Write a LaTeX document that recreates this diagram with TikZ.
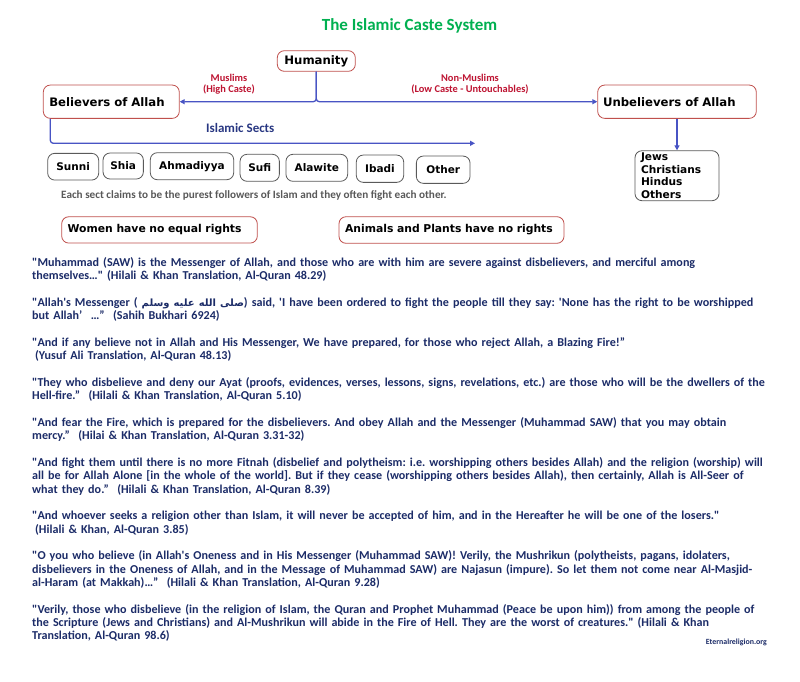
\documentclass[tikz,border=0pt]{standalone}
\usepackage{fontspec}
\usetikzlibrary{arrows.meta}
\TeXXeTstate=1
\newfontfamily\carl{Carlito}
\newfontfamily\dvs{DejaVu Sans}
\newfontfamily\arabicfont[Script=Arabic]{DejaVu Sans}
\definecolor{titlegreen}{RGB}{0,176,80}
\definecolor{boxred}{RGB}{192,80,77}
\definecolor{linkblue}{RGB}{72,84,196}
\definecolor{labelred}{RGB}{190,20,50}
\definecolor{sectblue}{RGB}{40,55,130}
\definecolor{quoteblue}{RGB}{28,44,104}
\definecolor{graytext}{RGB}{89,89,89}
\definecolor{sectgray}{RGB}{90,90,90}
\newcommand{\gp}{\hspace{0.7em}}
\frenchspacing
\tikzset{
  titlestyle/.style={inner sep=0pt, text=titlegreen, font=\carl\bfseries\fontsize{17}{20}\selectfont},
  mainbox/.style={draw=boxred, line width=0.8pt, rounded corners=7pt, inner ysep=0pt,
    font=\dvs\bfseries\fontsize{11.7}{14}\selectfont},
  sectbox/.style={draw=sectgray, line width=0.8pt, rounded corners=7pt, inner sep=0pt,
    font=\dvs\bfseries\fontsize{10.5}{12}\selectfont},
  rightsbox/.style={draw=boxred, line width=0.8pt, rounded corners=7pt, inner ysep=0pt,
    align=left, font=\dvs\bfseries\fontsize{10.8}{13}\selectfont},
  listbox/.style={draw=sectgray, line width=0.8pt, rounded corners=7pt, inner ysep=0pt,
    align=left, font=\dvs\bfseries\fontsize{10.6}{12.7}\selectfont},
  conn/.style={draw=linkblue, line width=1.3pt, -{Triangle[length=5pt,width=5pt]}},
  caste/.style={inner sep=0pt, align=center, text=labelred, font=\carl\bfseries\fontsize{10.4}{11}\selectfont},
  sectlabel/.style={inner sep=0pt, text=sectblue, font=\carl\bfseries\fontsize{13}{15}\selectfont},
  claimtext/.style={inner sep=0pt, text=graytext, font=\carl\bfseries\fontsize{11.2}{13}\selectfont},
  qtext/.style={anchor=base west, inner sep=0pt, text width=820pt, align=left, text=quoteblue,
    font=\carl\bfseries\fontsize{12.1}{13.35}\selectfont},
  sitetext/.style={inner sep=0pt, text=quoteblue, font=\carl\bfseries\fontsize{7.9}{9}\selectfont}
}
\begin{document}
\begin{tikzpicture}[x=1pt,y=-1pt]
\fill[white] (0,0) rectangle (800,681);
\useasboundingbox (0,0) rectangle (800,681);

\node[titlestyle, anchor=base] (title) at (409.5,30.5) {The Islamic Caste System};

\node[mainbox, minimum width=78pt, minimum height=20.6pt] (hum) at (316.3,61) {Humanity};
\node[mainbox, text width=124pt, inner xsep=6pt, align=left, minimum height=33.3pt] (bel) at (111.3,101.7) {Believers of Allah};
\node[mainbox, text width=148pt, inner xsep=5.3pt, align=left, minimum height=33.3pt] (unb) at (677,101.7) {Unbelievers of Allah};

\draw[conn, rounded corners=3pt] (hum.south) |- (bel.east);
\draw[conn, rounded corners=3pt] (hum.south) |- (unb.west);

\node[caste] (mus) at (229,84.5) {Muslims\\(High Caste)};
\node[caste] (nonmus) at (470,84.5) {Non-Muslims\\(Low Caste - Untouchables)};

\coordinate (sectend) at (475,143.3);
\draw[conn, rounded corners=3pt] ([xshift=7.4pt]bel.south west) |- (sectend);
\node[sectlabel, anchor=base] (sl) at (240.3,132) {Islamic Sects};

\node[sectbox, minimum width=51pt, minimum height=26.7pt] (sunni) at (73.2,166.7) {Sunni};
\node[sectbox, minimum width=40.3pt, minimum height=26pt] (shia) at (123.2,166) {Shia};
\node[sectbox, minimum width=83.4pt, minimum height=27pt] (ahm) at (192,166.2) {Ahmadiyya};
\node[sectbox, minimum width=39.3pt, minimum height=27pt] (sufi) at (259.7,167.8) {Sufi};
\node[sectbox, minimum width=61.7pt, minimum height=27pt] (alaw) at (316.8,167.8) {Alawite};
\node[sectbox, minimum width=47.4pt, minimum height=27.3pt] (ibadi) at (380,168.7) {Ibadi};
\node[sectbox, minimum width=53.7pt, minimum height=27.3pt] (other) at (443.2,169.7) {Other};

\node[claimtext, anchor=base west] (claim) at (61,198.5) {Each sect claims to be the purest followers of Islam and they often fight each other.};

\node[listbox, text width=72pt, inner xsep=6pt, minimum height=50pt] (jews) at (677,175.7) {Jews\\Christians\\Hindus\\Others};
\draw[conn] (unb.south) -- (jews.north);

\node[rightsbox, text width=183.6pt, inner xsep=6pt, minimum height=26.3pt] (women) at (159.5,229.9) {Women have no equal rights};
\node[rightsbox, text width=213pt, inner xsep=6pt, minimum height=26.6pt] (animals) at (451.5,230) {Animals and Plants have no rights};

\node[qtext] (q1) at (32,266.3) {"Muhammad (SAW) is the Messenger of Allah, and those who are with him are severe against disbelievers, and merciful among\\
themselves…" (Hilali \& Khan Translation, Al-Quran 48.29)};
\node[qtext] (q2) at (32,306.3) {"Allah's Messenger ( {\arabicfont\fontsize{10}{13.35}\selectfont\beginR صلى الله عليه وسلم\endR}) said, 'I have been ordered to fight the people till they say: 'None has the right to be worshipped\\
but Allah’\gp…”\gp (Sahih Bukhari 6924)};
\node[qtext] (q3) at (32,346.3) {"And if any believe not in Allah and His Messenger, We have prepared, for those who reject Allah, a Blazing Fire!”\\
\hspace*{3pt}(Yusuf Ali Translation, Al-Quran 48.13)};
\node[qtext] (q4) at (32,386.3) {"They who disbelieve and deny our Ayat (proofs, evidences, verses, lessons, signs, revelations, etc.) are those who will be the dwellers of the\\
Hell-fire.”\gp (Hilali \& Khan Translation, Al-Quran 5.10)};
\node[qtext] (q5) at (32,426.3) {"And fear the Fire, which is prepared for the disbelievers. And obey Allah and the Messenger (Muhammad SAW) that you may obtain\\
mercy.”\gp (Hilai \& Khan Translation, Al-Quran 3.31-32)};
\node[qtext] (q6) at (32,466.3) {"And fight them until there is no more Fitnah (disbelief and polytheism: i.e. worshipping others besides Allah) and the religion (worship) will\\
all be for Allah Alone [in the whole of the world]. But if they cease (worshipping others besides Allah), then certainly, Allah is All-Seer of\\
what they do.”\gp (Hilali \& Khan Translation, Al-Quran 8.39)};
\node[qtext] (q7) at (32,519.7) {"And whoever seeks a religion other than Islam, it will never be accepted of him, and in the Hereafter he will be one of the losers."\\
\hspace*{3pt}(Hilali \& Khan, Al-Quran 3.85)};
\node[qtext] (q8) at (32,559.7) {"O you who believe (in Allah's Oneness and in His Messenger (Muhammad SAW)! Verily, the Mushrikun (polytheists, pagans, idolaters,\\
disbelievers in the Oneness of Allah, and in the Message of Muhammad SAW) are Najasun (impure). So let them not come near Al-Masjid-\\
al-Haram (at Makkah)…”\gp (Hilali \& Khan Translation, Al-Quran 9.28)};
\node[qtext] (q9) at (32,613) {"Verily, those who disbelieve (in the religion of Islam, the Quran and Prophet Muhammad (Peace be upon him)) from among the people of\\
the Scripture (Jews and Christians) and Al-Mushrikun will abide in the Fire of Hell. They are the worst of creatures." (Hilali \& Khan\\
Translation, Al-Quran 98.6)};

\node[sitetext, anchor=base east] (site) at (767,644) {Eternalreligion.org};
\end{tikzpicture}
\end{document}
